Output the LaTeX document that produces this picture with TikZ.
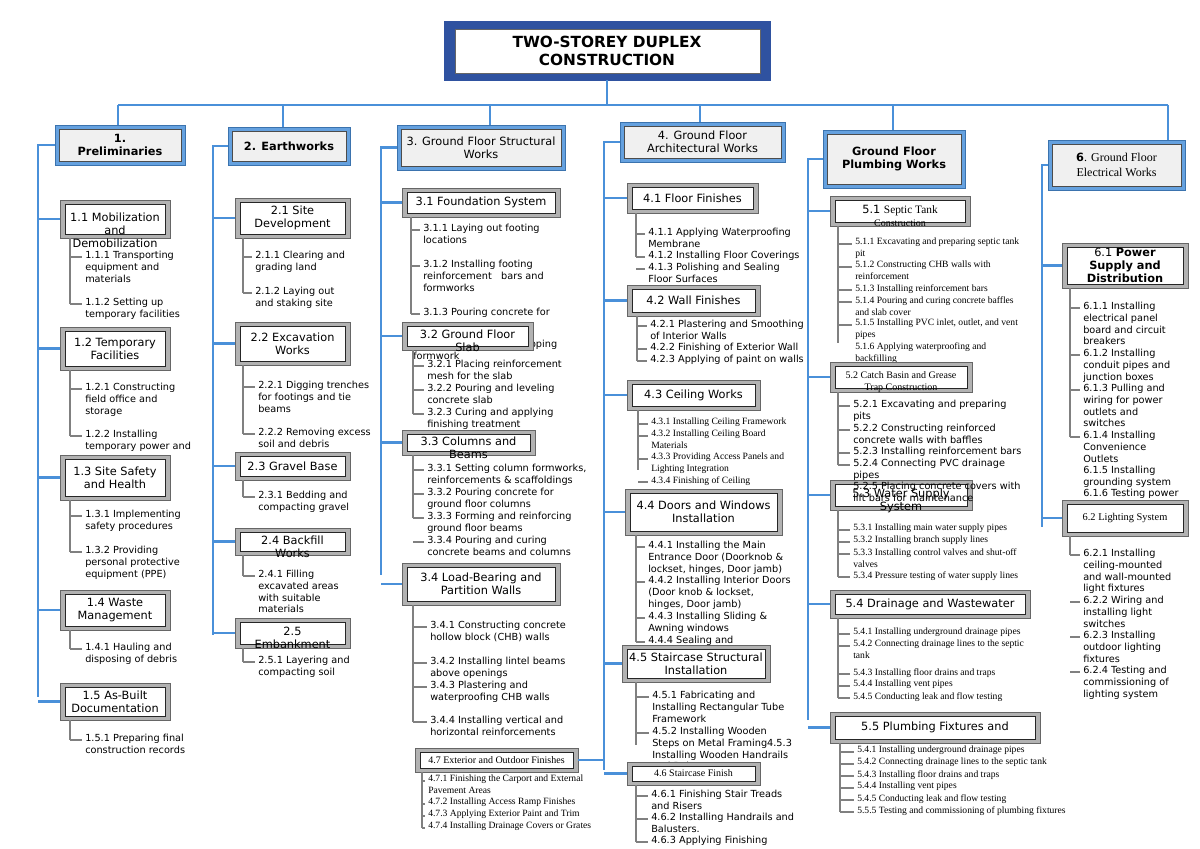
\documentclass[tikz,border=0pt]{standalone}
\usepackage{fontspec}
\setmainfont{DejaVu Sans}
\newfontfamily\ls{Liberation Serif}
\definecolor{blu}{RGB}{74,144,217}
\definecolor{dblu}{RGB}{47,82,160}
\newcommand\fI{\fontsize{7.3}{8.8}\selectfont}
\newcommand\fS{\ls\fontsize{7.2}{9}\selectfont}
\newcommand\fB{\fontsize{8.5}{9.6}\selectfont}
\newcounter{ic}
\newcommand\wi[5]{\stepcounter{ic}\edef\nm{w\arabic{ic}}%
 \node[anchor=north west,align=left,inner sep=0,font=#4] (\nm) at (#2,#3) {#5};
 \draw[sub] (#1,{#3+6}) -- ({#2-3},{#3+6});}
\newcommand\bx[7]{%
 \filldraw[draw=black!60,fill=gray!60,line width=0.5pt] (#2,#3) rectangle (#4,#5);
 \filldraw[draw=black!85,fill=white,line width=0.6pt] ({#2+5},{#3+4}) rectangle ({#4-5},{#5-4});
 \node[align=center,font=#6,inner sep=0] (#1) at ({(#2+#4)/2},{(#3+#5)/2}) {#7};
 \coordinate (#1w) at (#2,{(#3+#5)/2});}
\newcommand\bxt[7]{%
 \filldraw[draw=black!60,fill=gray!60,line width=0.5pt] (#2,#3) rectangle (#4,#5);
 \filldraw[draw=black!85,fill=white,line width=0.6pt] ({#2+5},{#3+4}) rectangle ({#4-5},{#5-4});
 \node[align=center,font=#6,inner sep=0,anchor=north] (#1) at ({(#2+#4)/2},{(#3+#5)/2-6}) {#7};
 \coordinate (#1w) at (#2,{(#3+#5)/2});}
\newcommand\bb[7]{%
 \filldraw[draw=blu!80!black,fill=blu!85,line width=0.5pt] (#2,#3) rectangle (#4,#5);
 \filldraw[draw=black!70,fill=gray!12,line width=0.5pt] ({#2+4},{#3+4}) rectangle ({#4-4},{#5-4});
 \node[align=center,font=#6,inner sep=0] (#1) at ({(#2+#4)/2},{(#3+#5)/2}) {#7};
 \coordinate (#1w) at (#2,{(#3+#5)/2});}
\tikzset{bl/.style={draw=blu,line width=2.2pt},sub/.style={draw=gray,line width=1.5pt}}
\begin{document}
\begin{tikzpicture}[x=0.75pt,y=-0.75pt]
\useasboundingbox[fill=white] (0,0) rectangle (1200,849);
% title
\filldraw[draw=dblu,fill=dblu,line width=1pt] (445,22) rectangle (770,80);
\filldraw[draw=black!60,fill=white] (455,29) rectangle (760,73);
\node[align=center,font=\fontsize{11.5}{14}\selectfont\bfseries] (t) at (607,51) {TWO-STOREY DUPLEX\\CONSTRUCTION};
\coordinate (tb) at (607,80);
\draw[bl] (tb) -- (607,105);
\draw[bl] (118,105) -- (1168,105);
\foreach \x/\y in {118/127,283/127,490/125,700/122,893/130,1168/140} \draw[bl] (\x,105) -- (\x,\y);
% column heads
\bb{c1}{55}{125}{185}{165}{\fB\bfseries}{1.\\Preliminaries}
\bb{c2}{228}{127}{350}{165}{\fB\bfseries}{2. Earthworks}
\bb{c3}{397}{125}{565}{170}{\fB}{3. Ground Floor Structural\\Works}
\bb{c4}{620}{122}{785}{162}{\fB}{4. Ground Floor\\Architectural Works}
\bb{c5}{823}{130}{965}{188}{\fB\bfseries}{Ground Floor\\Plumbing Works}
\bb{c6}{1048}{140}{1185}{190}{\ls\fontsize{9}{11}\selectfont}{{\rmfamily\fB\bfseries 6}. Ground Floor\\Electrical Works}
% spines
\draw[bl] (c1w) -- (38,0|-c1w) -- (38,697);
\draw[bl] (c2w) -- (213,0|-c2w) -- (213,635);
\draw[bl] (c3w) -- (381,0|-c3w) -- (381,575);
\draw[bl] (c4w) -- (604,0|-c4w) -- (604,770);
\draw[bl] (c5w) -- (808,0|-c5w) -- (808,720);
\draw[bl] (c6w) -- (1042,0|-c6w) -- (1042,527);
% column 1
\bxt{b11}{60}{200}{170}{238}{\fB}{1.1 Mobilization\\and\\Demobilization}
\wi{70}{85}{251}{\fI}{1.1.1 Transporting\\equipment and\\materials}
\wi{70}{85}{298}{\fI}{1.1.2 Setting up\\temporary facilities}
\draw[sub] (70,238) -- (70,304);
\bx{b12}{60}{327}{170}{370}{\fB}{1.2 Temporary\\Facilities}
\wi{70}{85}{383}{\fI}{1.2.1 Constructing\\field office and\\storage}
\wi{70}{85}{430}{\fI}{1.2.2 Installing\\temporary power and}
\draw[sub] (70,370) -- (70,436);
\bx{b13}{60}{455}{170}{500}{\fB}{1.3 Site Safety\\and Health}
\wi{70}{85}{510}{\fI}{1.3.1 Implementing\\safety procedures}
\wi{70}{85}{546}{\fI}{1.3.2 Providing\\personal protective\\equipment (PPE)}
\draw[sub] (70,500) -- (70,552);
\bx{b14}{60}{590}{170}{630}{\fB}{1.4 Waste\\Management}
\wi{70}{85}{643}{\fI}{1.4.1 Hauling and\\disposing of debris}
\draw[sub] (70,630) -- (70,649);
\bx{b15}{60}{683}{170}{720}{\fB}{1.5 As-Built\\Documentation}
\wi{70}{85}{734}{\fI}{1.5.1 Preparing final\\construction records}
\draw[sub] (70,720) -- (70,740);
\foreach \n in {b11,b12,b13,b14,b15} \draw[bl] (\n w) -- (38,0|-\n w);
% column 2
\bx{b21}{235}{198}{350}{238}{\fB}{2.1 Site\\Development}
\wi{243}{255}{251}{\fI}{2.1.1 Clearing and\\grading land}
\wi{243}{255}{287}{\fI}{2.1.2 Laying out\\and staking site}
\draw[sub] (243,238) -- (243,293);
\bx{b22}{235}{322}{350}{365}{\fB}{2.2 Excavation\\Works}
\wi{243}{258}{381}{\fI}{2.2.1 Digging trenches\\for footings and tie\\beams}
\wi{243}{258}{428}{\fI}{2.2.2 Removing excess\\soil and debris}
\draw[sub] (243,365) -- (243,434);
\bx{b23}{235}{452}{350}{480}{\fB}{2.3 Gravel Base}
\wi{243}{258}{491}{\fI}{2.3.1 Bedding and\\compacting gravel}
\draw[sub] (243,480) -- (243,497);
\bxt{b24}{235}{528}{350}{555}{\fB}{2.4 Backfill\\Works}
\wi{243}{258}{570}{\fI}{2.4.1 Filling\\excavated areas\\with suitable\\materials}
\draw[sub] (243,555) -- (243,576);
\bxt{b25}{235}{618}{350}{648}{\fB}{2.5\\Embankment}
\wi{243}{258}{656}{\fI}{2.5.1 Layering and\\compacting soil}
\draw[sub] (243,648) -- (243,662);
\foreach \n in {b21,b22,b23,b24,b25} \draw[bl] (\n w) -- (213,0|-\n w);
% column 3
\bx{b31}{402}{188}{560}{217}{\fB}{3.1 Foundation System}
\wi{411}{423}{224}{\fI}{3.1.1 Laying out footing\\locations}
\wi{411}{423}{260}{\fI}{3.1.2 Installing footing\\reinforcement \ \ bars and\\formworks}
\wi{411}{423}{308}{\fI}{3.1.3 Pouring concrete for}
\draw[sub] (411,217) -- (411,314);
\node[anchor=north west,align=left,inner sep=0,font=\fI] (h314) at (413,340) {3.1.4 Removing and stripping\\formwork};
\bxt{b32}{402}{322}{533}{350}{\fB}{3.2 Ground Floor\\Slab}
\wi{413}{427}{360}{\fI}{3.2.1 Placing reinforcement\\mesh for the slab}
\wi{413}{427}{384}{\fI}{3.2.2 Pouring and leveling\\concrete slab}
\wi{413}{427}{408}{\fI}{3.2.3 Curing and applying\\finishing treatment}
\draw[sub] (413,350) -- (413,414);
\bxt{b33}{402}{430}{535}{455}{\fB}{3.3 Columns and\\Beams}
\wi{413}{427}{464}{\fI}{3.3.1 Setting column formworks,\\reinforcements \& scaffoldings}
\wi{413}{427}{488}{\fI}{3.3.2 Pouring concrete for\\ground floor columns}
\wi{413}{427}{512}{\fI}{3.3.3 Forming and reinforcing\\ground floor beams}
\wi{413}{427}{536}{\fI}{3.3.4 Pouring and curing\\concrete beams and columns}
\draw[sub] (413,455) -- (413,518);
\bx{b34}{402}{563}{560}{605}{\fB}{3.4 Load-Bearing and\\Partition Walls}
\wi{413}{430}{621}{\fI}{3.4.1 Constructing concrete\\hollow block (CHB) walls}
\wi{413}{430}{657}{\fI}{3.4.2 Installing lintel beams\\above openings}
\wi{413}{430}{681}{\fI}{3.4.3 Plastering and\\waterproofing CHB walls}
\wi{413}{430}{716}{\fI}{3.4.4 Installing vertical and\\horizontal reinforcements}
\draw[sub] (413,605) -- (413,722);
\foreach \n in {b31,b32,b33,b34} \draw[bl] (\n w) -- (381,0|-\n w);
\bx{b47}{415}{748}{578}{772}{\ls\fontsize{7.5}{9}\selectfont}{4.7 Exterior and Outdoor Finishes}
\coordinate (b47e) at (578,760);
\draw[bl] (b47e) -- (604,0|-b47e);
\wi{422}{428}{775}{\fS}{4.7.1 Finishing the Carport and External\\Pavement Areas}
\wi{422}{428}{798}{\fS}{4.7.2 Installing Access Ramp Finishes}
\wi{422}{428}{810}{\fS}{4.7.3 Applying Exterior Paint and Trim}
\wi{422}{428}{822}{\fS}{4.7.4 Installing Drainage Covers or Grates}
\draw[sub] (422,772) -- (422,828);
% column 4
\bx{b41}{627}{183}{758}{213}{\fB}{4.1 Floor Finishes}
\wi{636}{648}{228}{\fI}{4.1.1 Applying Waterproofing\\Membrane}
\wi{636}{648}{251}{\fI}{4.1.2 Installing Floor Coverings}
\wi{636}{648}{263}{\fI}{4.1.3 Polishing and Sealing\\Floor Surfaces}
\draw[sub] (636,213) -- (636,257);
\bx{b42}{627}{285}{760}{316}{\fB}{4.2 Wall Finishes}
\wi{637}{650}{320}{\fI}{4.2.1 Plastering and Smoothing\\of Interior Walls}
\wi{637}{650}{343}{\fI}{4.2.2 Finishing of Exterior Wall}
\wi{637}{650}{355}{\fI}{4.2.3 Applying of paint on walls}
\draw[sub] (637,316) -- (637,361);
\bx{b43}{627}{380}{760}{410}{\fB}{4.3 Ceiling Works}
\wi{638}{651}{418}{\fS}{4.3.1 Installing Ceiling Framework}
\wi{638}{651}{430}{\fS}{4.3.2 Installing Ceiling Board\\Materials}
\wi{638}{651}{453}{\fS}{4.3.3 Providing Access Panels and\\Lighting Integration}
\wi{638}{651}{476}{\fS}{4.3.4 Finishing of Ceiling}
\draw[sub] (638,410) -- (638,470);
\bx{b44}{625}{489}{782}{535}{\fB}{4.4 Doors and Windows\\Installation}
\wi{636}{648}{541}{\fI}{4.4.1 Installing the Main\\Entrance Door (Doorknob \&\\lockset, hinges, Door jamb)}
\wi{636}{648}{576}{\fI}{4.4.2 Installing Interior Doors\\(Door knob \& lockset,\\hinges, Door jamb)}
\wi{636}{648}{612}{\fI}{4.4.3 Installing Sliding \&\\Awning windows}
\wi{636}{648}{636}{\fI}{4.4.4 Sealing and}
\draw[sub] (636,535) -- (636,642);
\bx{b45}{622}{645}{770}{682}{\fB}{4.5 Staircase Structural\\Installation}
\wi{636}{652}{691}{\fI}{4.5.1 Fabricating and\\Installing Rectangular Tube\\Framework}
\wi{636}{652}{727}{\fI}{4.5.2 Installing Wooden\\Steps on Metal Framing4.5.3\\Installing Wooden Handrails\\and Balusters}
\draw[sub] (636,682) -- (636,745);
\bx{b46}{627}{762}{760}{785}{\ls\fontsize{7.5}{9}\selectfont}{4.6 Staircase Finish}
\wi{636}{651}{790}{\fI}{4.6.1 Finishing Stair Treads\\and Risers}
\wi{636}{651}{813}{\fI}{4.6.2 Installing Handrails and\\Balusters.}
\wi{636}{651}{836}{\fI}{4.6.3 Applying Finishing}
\draw[sub] (636,785) -- (636,842);
\foreach \n in {b41,b42,b43,b44,b45,b46} \draw[bl] (\n w) -- (604,0|-\n w);
% column 5
\bxt{b51}{830}{196}{970}{226}{\fB}{5.1 {\ls Septic Tank}\\{\ls\fontsize{7.5}{8}\selectfont Construction}}
\wi{838}{855}{238}{\fS}{5.1.1 Excavating and preparing septic tank\\pit}
\wi{838}{855}{261}{\fS}{5.1.2 Constructing CHB walls with\\reinforcement}
\wi{838}{855}{284}{\fS}{5.1.3 Installing reinforcement bars}
\wi{838}{855}{296}{\fS}{5.1.4 Pouring and curing concrete baffles\\and slab cover}
\wi{838}{855}{319}{\fS}{5.1.5 Installing PVC inlet, outlet, and vent\\pipes}
\draw[sub] (838,226) -- (838,343);
\node[anchor=north west,align=left,inner sep=0,font=\fS] (w516) at (855,342) {5.1.6 Applying waterproofing and\\backfilling};
\bxt{b52}{830}{362}{972}{392}{\ls\fontsize{7.5}{9}\selectfont}{5.2 Catch Basin and Grease\\Trap Construction}
\wi{838}{853}{400}{\fI}{5.2.1 Excavating and preparing\\pits}
\wi{838}{853}{424}{\fI}{5.2.2 Constructing reinforced\\concrete walls with baffles}
\wi{838}{853}{447}{\fI}{5.2.3 Installing reinforcement bars}
\wi{838}{853}{459}{\fI}{5.2.4 Connecting PVC drainage\\pipes}
\draw[sub] (838,392) -- (838,465);
\bxt{b53}{830}{480}{972}{510}{\fB}{5.3 Water Supply\\System}
\node[anchor=north west,align=left,inner sep=0,font=\fI] (w525) at (853,482) {5.2.5 Placing concrete covers with\\lift bars for maintenance};
\wi{838}{853}{524}{\fS}{5.3.1 Installing main water supply pipes}
\wi{838}{853}{536}{\fS}{5.3.2 Installing branch supply lines}
\wi{838}{853}{548}{\fS}{5.3.3 Installing control valves and shut-off\\valves}
\wi{838}{853}{571}{\fS}{5.3.4 Pressure testing of water supply lines}
\draw[sub] (838,510) -- (838,577);
\bx{b54}{830}{590}{1030}{618}{\fB}{5.4 Drainage and Wastewater}
\wi{838}{853}{628}{\fS}{5.4.1 Installing underground drainage pipes}
\wi{838}{853}{640}{\fS}{5.4.2 Connecting drainage lines to the septic\\tank}
\wi{838}{853}{668}{\fS}{5.4.3 Installing floor drains and traps}
\wi{838}{853}{680}{\fS}{5.4.4 Installing vent pipes}
\wi{838}{853}{692}{\fS}{5.4.5 Conducting leak and flow testing}
\draw[sub] (838,618) -- (838,698);
\bx{b55}{830}{712}{1040}{743}{\fB}{5.5 Plumbing Fixtures and}
\wi{840}{857}{746}{\fS}{5.4.1 Installing underground drainage pipes}
\wi{840}{857}{758}{\fS}{5.4.2 Connecting drainage lines to the septic tank}
\wi{840}{857}{770}{\fS}{5.4.3 Installing floor drains and traps}
\wi{840}{857}{782}{\fS}{5.4.4 Installing vent pipes}
\wi{840}{857}{794}{\fS}{5.4.5 Conducting leak and flow testing}
\wi{840}{857}{806}{\fS}{5.5.5 Testing and commissioning of plumbing fixtures}
\draw[sub] (840,743) -- (840,812);
\foreach \n in {b51,b52,b53,b54,b55} \draw[bl] (\n w) -- (808,0|-\n w);
% column 6
\bx{b61}{1062}{243}{1188}{288}{\fB}{6.1 {\bfseries Power}\\{\bfseries Supply and}\\{\bfseries Distribution}}
\wi{1070}{1083}{302}{\fI}{6.1.1 Installing\\electrical panel\\board and circuit\\breakers}
\wi{1070}{1083}{349}{\fI}{6.1.2 Installing\\conduit pipes and\\junction boxes}
\wi{1070}{1083}{384}{\fI}{6.1.3 Pulling and\\wiring for power\\outlets and\\switches}
\wi{1070}{1083}{431}{\fI}{6.1.4 Installing\\Convenience\\Outlets}
\draw[sub] (1070,288) -- (1070,437);
\node[anchor=north west,align=left,inner sep=0,font=\fI] (w615) at (1083,466) {6.1.5 Installing\\grounding system};
\node[anchor=north west,align=left,inner sep=0,font=\fI] (w616) at (1083,489) {6.1.6 Testing power};
\bx{b62}{1062}{500}{1188}{536}{\ls\fontsize{7.8}{9}\selectfont}{6.2 Lighting System}
\wi{1070}{1083}{549}{\fI}{6.2.1 Installing\\ceiling-mounted\\and wall-mounted\\light fixtures}
\wi{1070}{1083}{596}{\fI}{6.2.2 Wiring and\\installing light\\switches}
\wi{1070}{1083}{631}{\fI}{6.2.3 Installing\\outdoor lighting\\fixtures}
\wi{1070}{1083}{666}{\fI}{6.2.4 Testing and\\commissioning of\\lighting system}
\draw[sub] (1070,536) -- (1070,555);
\foreach \n in {b61,b62} \draw[bl] (\n w) -- (1042,0|-\n w);
\end{tikzpicture}
\end{document}
